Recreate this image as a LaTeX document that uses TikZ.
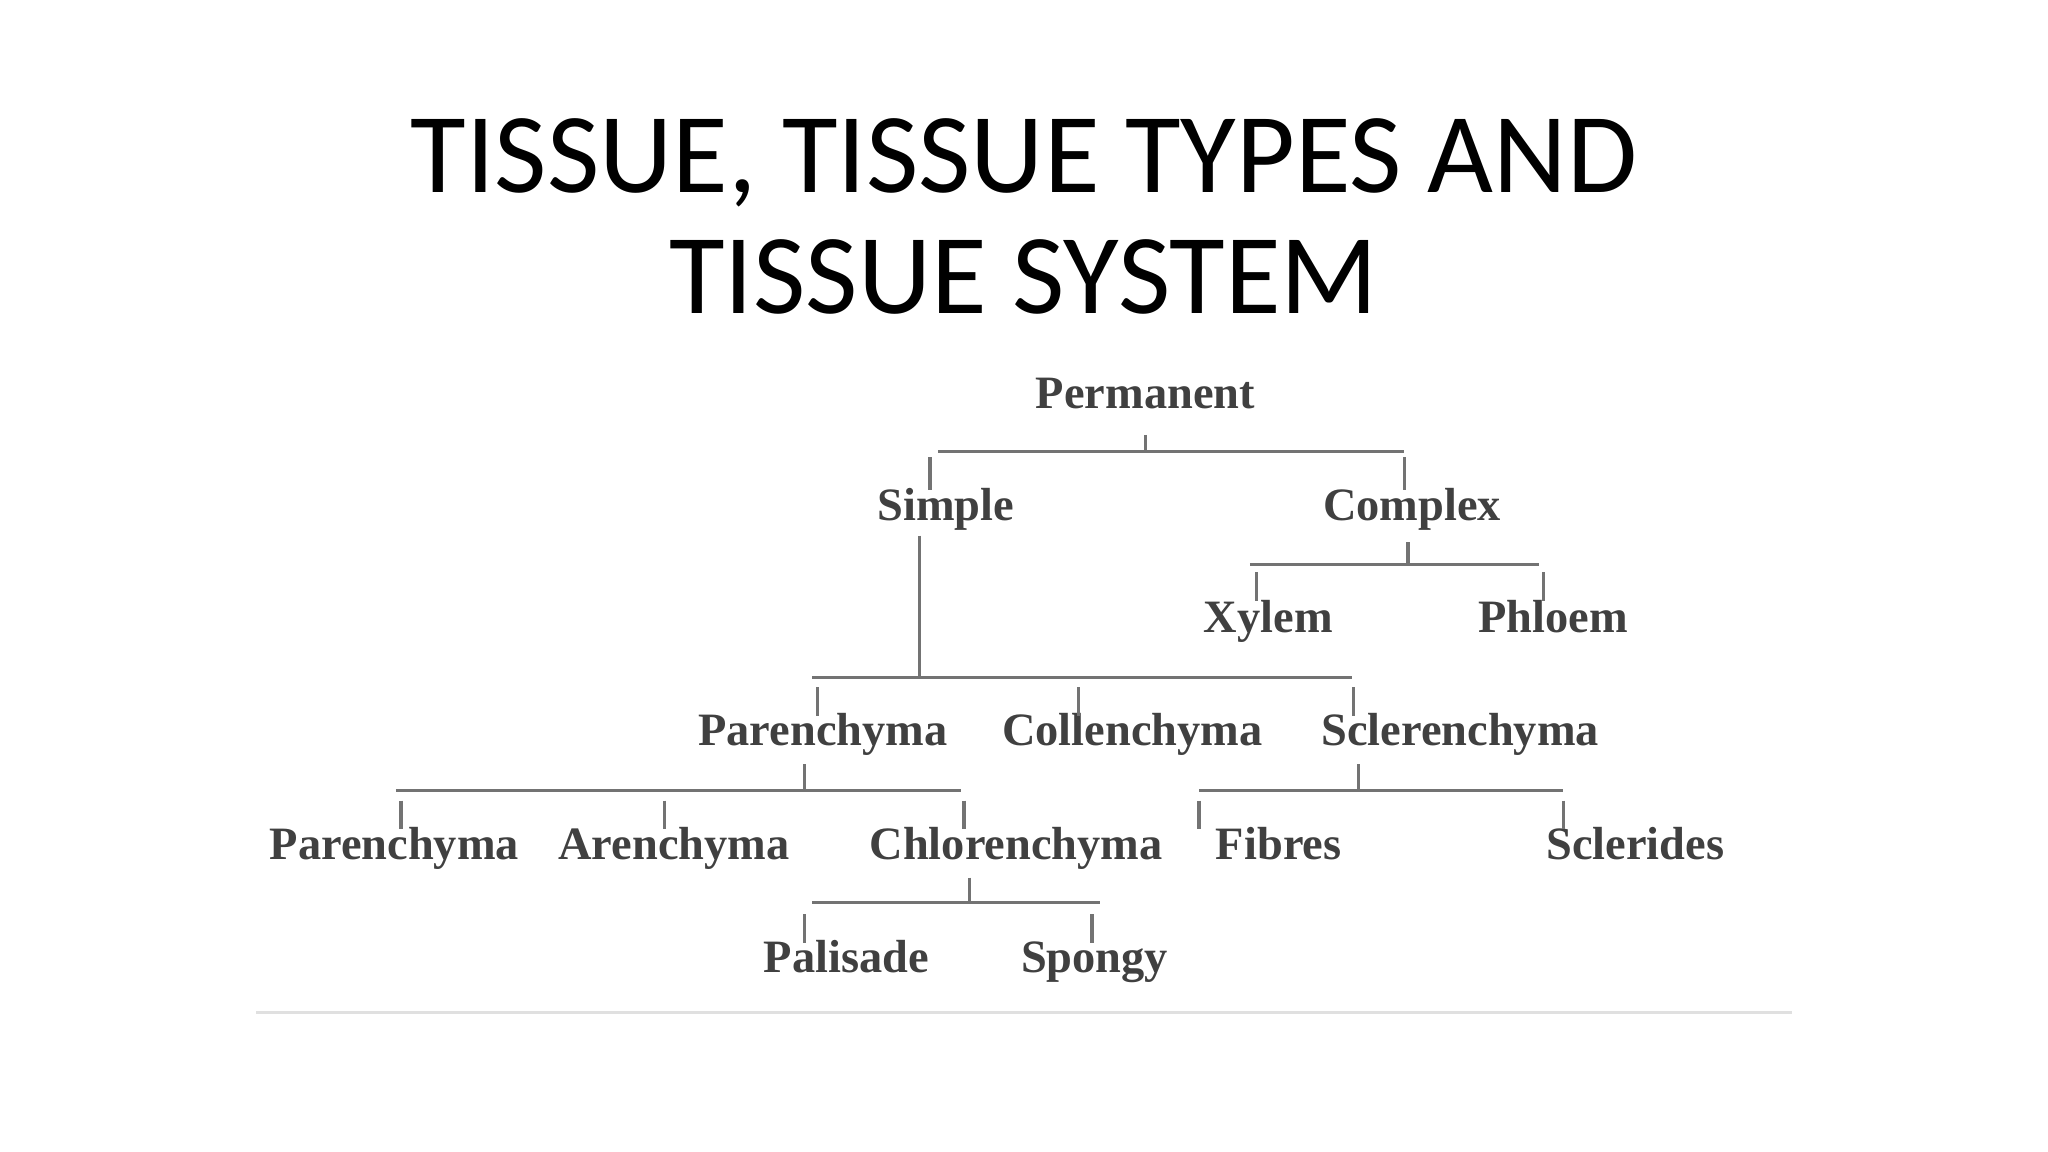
\documentclass[tikz,border=0pt]{standalone}
\usepackage{fontspec}
\setmainfont{Liberation Serif}
\newfontfamily\titlefont{Carlito}
\begin{document}
\begin{tikzpicture}[x=0.013061cm,y=-0.013061cm,
  lbl/.style={font=\fontsize{13.2}{16}\selectfont\bfseries, text=black!75, inner sep=1pt, text height=1.6ex, text depth=0.4ex},
  ln/.style={draw=black!55, line width=0.9pt}]
\useasboundingbox (0,0) rectangle (1568,882);
\node[font=\titlefont\fontsize{32.4}{34.5}\selectfont, align=center] (title) at (784,166) {TISSUE, TISSUE TYPES AND\\TISSUE SYSTEM};
\node[lbl] (perm) at (877,305) {Permanent};
\node[lbl] (simple) at (724,391) {Simple};
\node[lbl] (complex) at (1081,391) {Complex};
\node[lbl] (xylem) at (971,477) {Xylem};
\node[lbl] (phloem) at (1189,477) {Phloem};
\node[lbl] (par) at (630,563) {Parenchyma};
\node[lbl] (col) at (867,563) {Collenchyma};
\node[lbl] (scl) at (1118,563) {Sclerenchyma};
\node[lbl] (par2) at (302,651) {Parenchyma};
\node[lbl] (are) at (516,651) {Arenchyma};
\node[lbl] (chl) at (778,651) {Chlorenchyma};
\node[lbl] (fib) at (979,651) {Fibres};
\node[lbl] (scr) at (1252,651) {Sclerides};
\node[lbl] (pal) at (648,737) {Palisade};
\node[lbl] (spo) at (838,737) {Spongy};
% Permanent
\draw[ln] (718,346) -- (1075,346) (877,333) -- (877,346) (712,350) -- (712,375) (1075,350) -- (1075,375);
% Complex
\draw[ln] (957,432) -- (1178,432) (1078,415) -- (1078,432) (962,438) -- (962,460) (1182,438) -- (1182,460);
% Simple
\draw[ln] (704,410) -- (704,519) (622,519) -- (1035,519) (626,526) -- (626,548) (826,526) -- (826,548) (1036,526) -- (1036,548);
% Parenchyma
\draw[ln] (303,605) -- (736,605) (616,585) -- (616,605) (307,613) -- (307,635) (509,613) -- (509,635) (738,613) -- (738,635);
% Sclerenchyma
\draw[ln] (918,605) -- (1197,605) (1040,585) -- (1040,605) (918,613) -- (918,635) (1197,613) -- (1197,635);
% Chlorenchyma
\draw[ln] (622,691) -- (842,691) (742,672) -- (742,691) (616,700) -- (616,722) (836,700) -- (836,722);
\draw[draw=black!12, line width=0.8pt] (196,775) -- (1372,775);
\end{tikzpicture}
\end{document}
